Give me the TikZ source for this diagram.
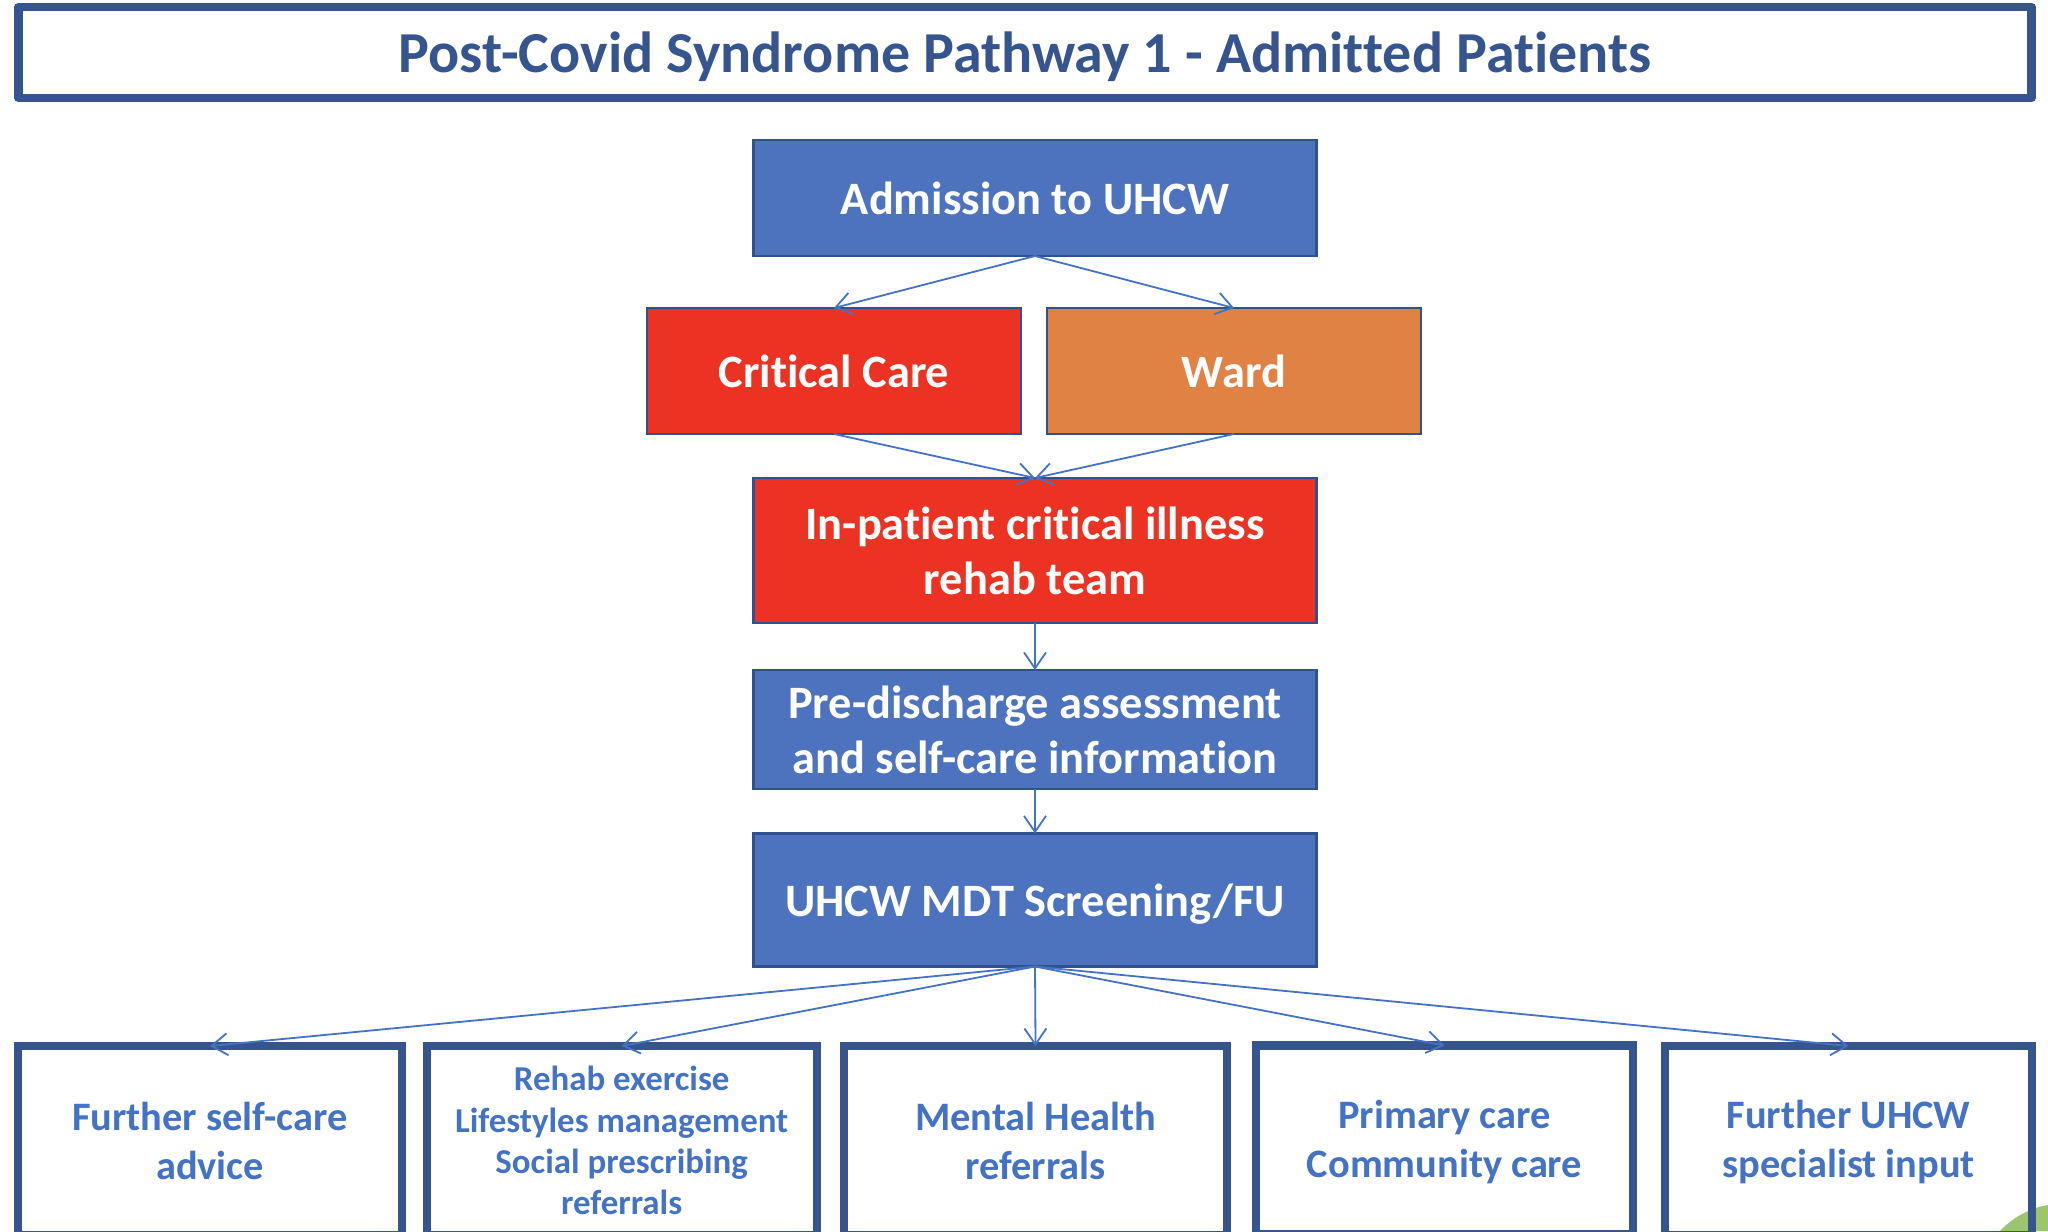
\documentclass[tikz,border=0pt]{standalone}
\usepackage{fontspec}
\setmainfont[Ligatures={NoCommon}]{Carlito}
\usetikzlibrary{arrows.meta}

\definecolor{edgeblue}{HTML}{2F528F}
\definecolor{deepblue}{HTML}{36558F}
\definecolor{lineblue}{HTML}{4472C4}
\definecolor{fillblue}{HTML}{4D72BE}
\definecolor{fillred}{HTML}{EC3323}
\definecolor{fillorange}{HTML}{DF8244}
\definecolor{cornergreen}{HTML}{9DC56B}

\tikzset{
  titlebox/.style={draw=deepblue, line width=4.3pt, line join=round, outer sep=0pt, inner sep=0pt, text=deepblue,
    font=\fontsize{29}{34}\selectfont\bfseries},
  mainbox/.style={draw=edgeblue, line width=1.2pt, outer sep=0pt, inner sep=0pt, text=white, align=center,
    minimum width=281.5pt, font=\fontsize{23.2}{27.5}\selectfont\bfseries},
  endbox/.style={draw=deepblue, line width=4.2pt, outer sep=0pt, inner sep=0pt, text=lineblue, align=center,
    minimum height=94.5pt, font=\fontsize{20.2}{24.5}\selectfont\bfseries},
  flowline/.style={draw=lineblue, line width=0.9pt, -{Straight Barb[length=8pt,width=11pt]}},
}

\begin{document}
\begin{tikzpicture}[x=0.5pt,y=-0.5pt]

\useasboundingbox (0,0) rectangle (2048,1231);

\coordinate (A) at (1025,52.5);
\coordinate (B) at (1035,198);
\coordinate (C) at (834,371);
\coordinate (D) at (1234,371);
\coordinate (E) at (1035,550.5);
\coordinate (F) at (1035,729.5);
\coordinate (G) at (1035,900);
\coordinate (H) at (210,1140.5);
\coordinate (I) at (621.7,1140.5);
\coordinate (J) at (1035.5,1140.5);
\coordinate (K) at (1444.5,1140);
\coordinate (L) at (1848.5,1140.5);

\fill [cornergreen] (2000,1231) .. controls (2010,1220) and (2028,1208) .. (2048,1205) -- (2048,1231) -- cycle;

\node [titlebox, text depth=0pt, minimum width=1006.7pt, minimum height=45.5pt] (title) at (A) {Post-Covid Syndrome Pathway 1 - Admitted Patients};

\node [mainbox, fill=fillblue, minimum height=58pt] (admission) at (B) {Admission to UHCW};
\node [mainbox, fill=fillred, minimum width=187pt, minimum height=63pt] (critical) at (C) {Critical Care};
\node [mainbox, fill=fillorange, minimum width=187pt, minimum height=63pt] (ward) at (D) {Ward};
\node [mainbox, fill=fillred, minimum height=72.5pt] (rehab) at (E) {In-patient critical illness\\rehab team};
\node [mainbox, fill=fillblue, minimum height=59.5pt] (discharge) at (F) {Pre-discharge assessment\\and self-care information};
\node [mainbox, fill=fillblue, text depth=0pt, minimum height=66.5pt] (mdt) at (G) {UHCW MDT Screening/FU};

\node [endbox, minimum width=192pt] (selfcare) at (H) {Further self-care\\advice};
\node [endbox, minimum width=195pt, font=\fontsize{17.45}{20.6}\selectfont\bfseries] (lifestyle) at (I) {Rehab exercise\\Lifestyles management\\Social prescribing\\referrals};
\node [endbox, minimum width=191.5pt] (mental) at (J) {Mental Health\\referrals};
\node [endbox, text depth=1.5pt, minimum width=188.5pt] (primary) at (K) {Primary care\\Community care};
\node [endbox, text depth=1.5pt, minimum width=183.5pt] (specialist) at (L) {Further UHCW\\specialist input};

\draw [flowline] (admission.south) -- (critical.north);
\draw [flowline] (admission.south) -- (ward.north);
\draw [flowline] (critical.south) -- (rehab.north);
\draw [flowline] (ward.south) -- (rehab.north);
\draw [flowline] (rehab.south) -- (discharge.north);
\draw [flowline] (discharge.south) -- (mdt.north);
\draw [flowline] (mdt.south) -- (selfcare.north);
\draw [flowline] (mdt.south) -- (lifestyle.north);
\draw [flowline] (mdt.south) -- (mental.north);
\draw [flowline] (mdt.south) -- (primary.north);
\draw [flowline] (mdt.south) -- (specialist.north);

\end{tikzpicture}
\end{document}
